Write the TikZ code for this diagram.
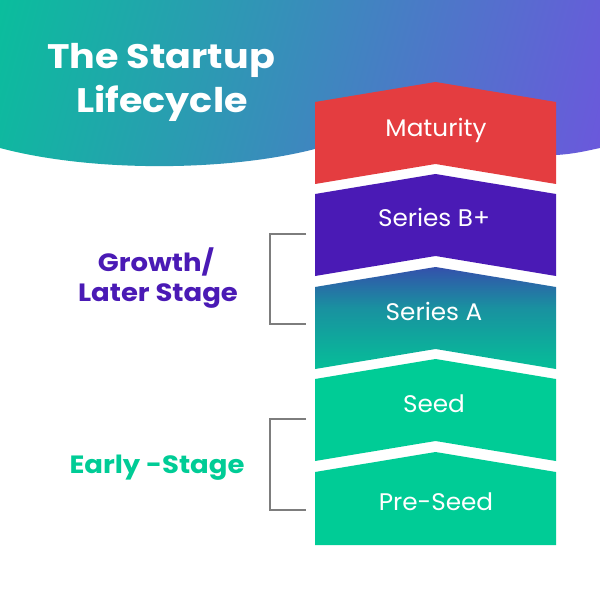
\documentclass[tikz,border=0pt]{standalone}
\usepackage{fontspec}
\setmainfont{Poppins}
\newfontfamily\ttlfont{Poppins}[FakeStretch=1.12]
\newfontfamily\sidefont{Poppins}[FakeStretch=1.1]
\newfontfamily\chevfont{Poppins}[FakeStretch=1.03]
\definecolor{hg}{RGB}{0,200,150}
\definecolor{hp}{RGB}{122,72,230}
\definecolor{cred}{RGB}{228,61,64}
\definecolor{cpur}{RGB}{74,26,181}
\definecolor{cgrn}{RGB}{0,204,150}
\definecolor{cteal}{RGB}{25,145,160}
\definecolor{cbrk}{RGB}{125,125,125}
\pgfdeclarehorizontalshading{hdr}{100bp}{color(0bp)=(hg); color(13bp)=(hg); color(90bp)=(hp); color(100bp)=(hp)}
\pgfdeclareverticalshading{seriesa}{100bp}{color(0bp)=(cgrn); color(16bp)=(cgrn); color(55bp)=(cteal); color(92bp)=(cpur); color(100bp)=(cpur)}
\begin{document}
\begin{tikzpicture}[x=1pt,y=-1pt,
  lbl/.style={font=\chevfont\fontsize{24}{28}\selectfont, text=white, anchor=base, inner sep=0pt},
  ttl/.style={font=\ttlfont\fontsize{34}{40}\bfseries\selectfont, text=white, anchor=base, inner sep=0pt},
  side/.style={font=\sidefont\fontsize{25}{30}\bfseries\selectfont, anchor=base, inner sep=0pt},
  brk/.style={draw=cbrk, line width=1.2pt}]
\useasboundingbox (0,0) rectangle (600,601);
\fill[white] (0,0) rectangle (600,601);
% header
\shade[shading=hdr, shading angle=-15]
  (0,0) -- (600,0) -- (600,148)
  .. controls (590,150) and (575,154) .. (556,155)
  .. controls (480,160) and (400,128) .. (315,149)
  .. controls (225,172) and (90,172) .. (0,148) -- cycle;
% title
\node[ttl] (t1) at (161,69) {The Startup};
\node[ttl] (t2) at (162,113) {Lifecycle};
% chevrons
\fill[cred] (315,102) -- (435.5,82) -- (556,102) -- (556,184) -- (435.5,164) -- (315,184) -- cycle;
\fill[cpur] (315,194) -- (435.5,174) -- (556,194) -- (556,276) -- (435.5,256) -- (315,276) -- cycle;
\shade[shading=seriesa] (315,287) -- (435.5,267) -- (556,287) -- (556,369) -- (435.5,349) -- (315,369) -- cycle;
\fill[cgrn] (315,379) -- (435.5,359) -- (556,379) -- (556,461) -- (435.5,441) -- (315,461) -- cycle;
\fill[cgrn] (315,472) -- (435.5,452) -- (556,472) -- (556,545) -- (315,545) -- cycle;
% chevron labels
\node[lbl] (mat) at (436,137) {Maturity};
\node[lbl] (sb) at (434,227) {Series B+};
\node[lbl] (sa) at (434,320) {Series A};
\node[lbl] (sd) at (434,412) {Seed};
\node[lbl] (ps) at (436,510) {Pre-Seed};
% side labels
\node[side, text=cpur] (g1) at (156,271) {Growth/};
\node[side, text=cpur] (g2) at (158,301) {Later Stage};
\node[side, text=cgrn] (e1) at (157,473) {Early -Stage};
% brackets
\coordinate (b1a) at (306,234);
\coordinate (b1b) at (270,234);
\coordinate (b1c) at (270,324);
\coordinate (b1d) at (306,324);
\coordinate (b2a) at (306,419);
\coordinate (b2b) at (270,419);
\coordinate (b2c) at (270,510);
\coordinate (b2d) at (306,510);
\draw[brk] (b1a) -- (b1b) -- (b1c) -- (b1d);
\draw[brk] (b2a) -- (b2b) -- (b2c) -- (b2d);
\end{tikzpicture}
\end{document}
